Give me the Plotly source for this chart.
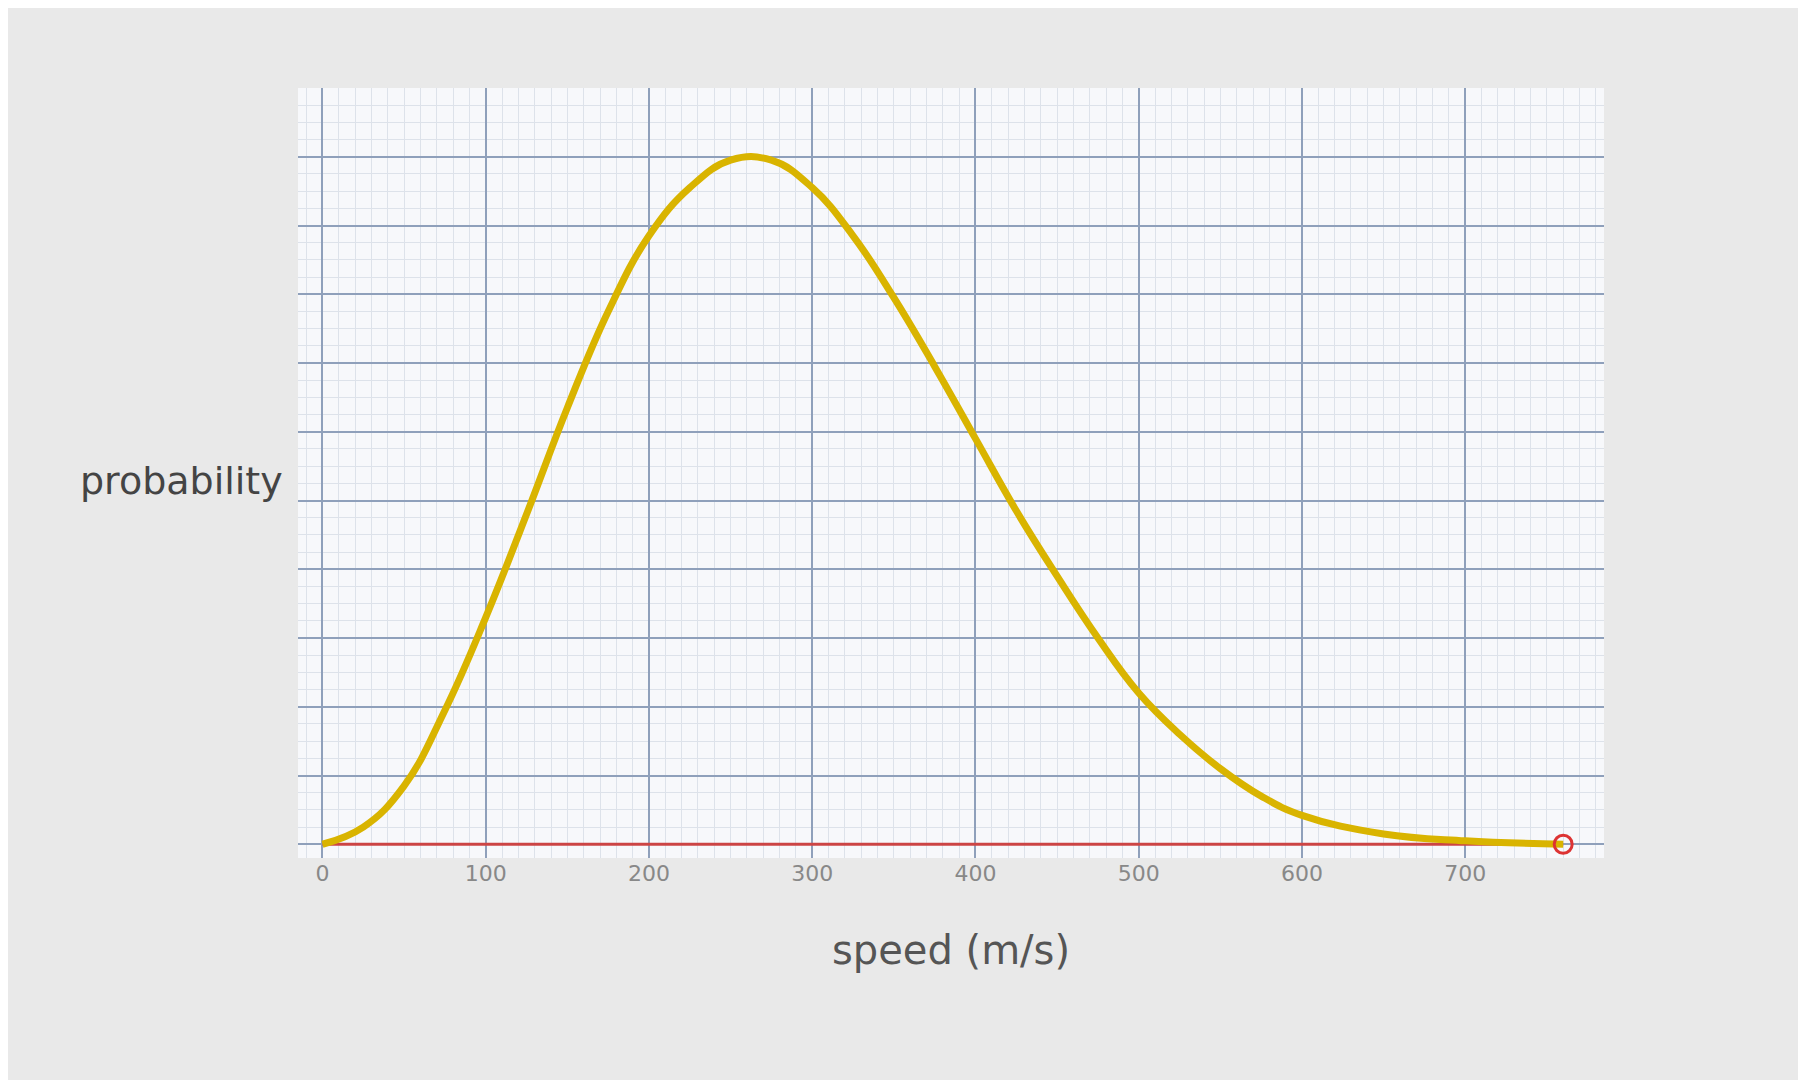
import plotly.graph_objects as go

speeds = [0, 25, 50, 75, 100, 125, 150, 175, 200, 225, 250, 275, 300, 325, 350, 375, 400, 425, 450, 475, 500, 525, 550, 575, 600, 650, 700, 760]
prob = [0, 0.25, 0.85, 1.95, 3.3, 4.8, 6.35, 7.75, 8.85, 9.55, 9.95, 9.95, 9.55, 8.85, 7.95, 6.95, 5.9, 4.85, 3.9, 3.0, 2.2, 1.6, 1.1, 0.7, 0.42, 0.15, 0.05, 0.0]
tick_vals = [0, 100, 200, 300, 400, 500, 600, 700]
tick_text = ["0", "100", "200", "300", "400", "500", "600", "700"]

fig = go.Figure()
fig.add_trace(go.Scatter(x=[0, 760], y=[0, 0], mode="lines",
                         line=dict(color="#cc4444", width=3), hoverinfo="skip"))
fig.add_trace(go.Scatter(x=speeds, y=prob, mode="lines",
                         line=dict(color="#d9b400", width=7, shape="spline", smoothing=1.2)))
fig.add_trace(go.Scatter(x=[760], y=[0], mode="markers",
                         marker=dict(size=18, color="rgba(0,0,0,0)", line=dict(color="#dd3333", width=3))))

fig.update_layout(
    width=1806, height=1080, showlegend=False,
    paper_bgcolor="#e9e9e9", plot_bgcolor="#f7f8fb",
    margin=dict(l=290, r=210, t=80, b=230),
    font=dict(family="DejaVu Sans", color="#555"),
)
fig.update_xaxes(range=[-15, 785], tickvals=tick_vals, ticktext=tick_text,
                 tickfont=dict(size=22, color="#888"), dtick=50,
                 showgrid=True, gridcolor="#8fa0bb", gridwidth=1.5,
                 minor=dict(dtick=10, showgrid=True, gridcolor="#dde2ea", gridwidth=1),
                 zeroline=False, showline=False,
                 title=dict(text="speed (m/s)", font=dict(size=40, color="#555"), standoff=50))
fig.update_yaxes(range=[-0.2, 11], dtick=1, showticklabels=False,
                 showgrid=True, gridcolor="#8fa0bb", gridwidth=1.5,
                 minor=dict(dtick=0.25, showgrid=True, gridcolor="#dde2ea", gridwidth=1),
                 zeroline=False, showline=False)
fig.add_annotation(text="probability", xref="paper", yref="paper", x=-0.01, y=0.49,
                   xanchor="right", showarrow=False, font=dict(size=38, color="#444"))
fig.write_html("out.html")
